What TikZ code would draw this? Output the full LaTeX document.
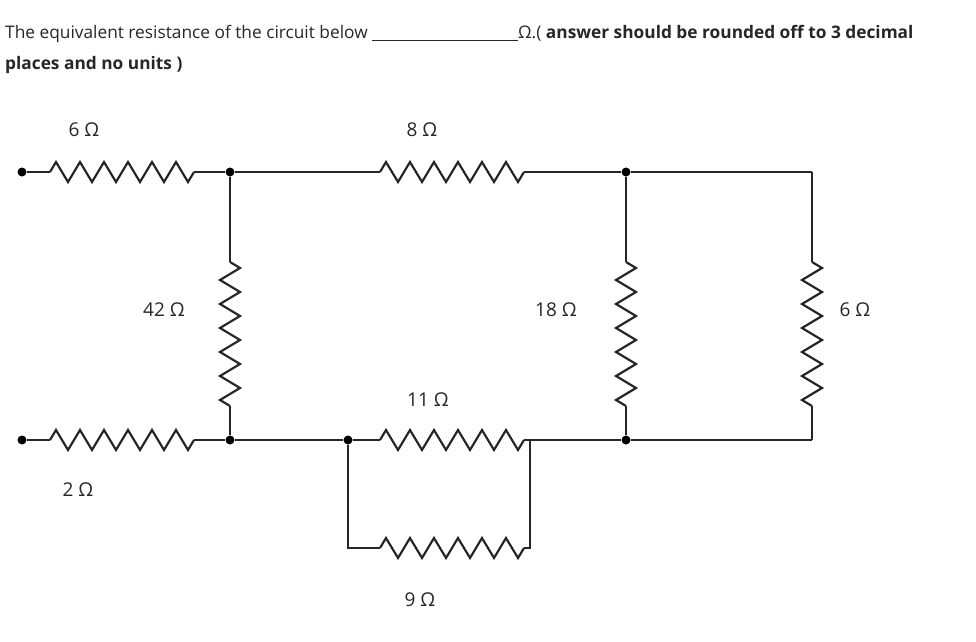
\documentclass[tikz,border=0pt]{standalone}
\usepackage{fontspec}
\setmainfont{Open Sans}
\usetikzlibrary{decorations.pathmorphing}
\begin{document}
\begin{tikzpicture}[x=1pt,y=-1pt,
  w/.style={line width=2.2pt,black!85},
  res/.style={w,decorate,decoration={zigzag,segment length=24pt,amplitude=10pt,pre length=0pt,post length=0pt}},
  dot/.style={circle,fill=black,inner sep=0pt,minimum size=9pt},
  lbl/.style={font=\fontsize{19}{22}\selectfont,text=black!85},
  txt/.style={font=\fontsize{17.3}{20}\selectfont,anchor=west,inner sep=0pt,text=black!85}]
\useasboundingbox (0,0) rectangle (976,641);
\node[txt] (t1) at (5,34) {The equivalent resistance of the circuit below \underline{\hspace{146pt}}Ω.( \textbf{answer should be rounded off to 3 decimal}};
\node[txt] (t2) at (5,65) {\textbf{places and no units )}};
% nodes
\node[dot] (A) at (22,172) {};
\node[dot] (B) at (230,172) {};
\node[dot] (C) at (626,172) {};
\coordinate (D) at (812,172);
\node[dot] (E) at (22,440) {};
\node[dot] (F) at (230,440) {};
\node[dot] (G) at (348,440) {};
\coordinate (H) at (530,440);
\node[dot] (I) at (626,440) {};
\coordinate (J) at (812,440);
\coordinate (K) at (348,548);
\coordinate (L) at (530,548);
% top
\draw[w] (A) -- (50,172);
\draw[res] (50,172) -- (194,172);
\draw[w] (194,172) -- (B) -- (380,172);
\draw[res] (380,172) -- (524,172);
\draw[w] (524,172) -- (C) -- (D);
% verticals
\draw[w] (B) -- (230,262); \draw[res] (230,262) -- (230,406); \draw[w] (230,406) -- (F);
\draw[w] (C) -- (626,262); \draw[res] (626,262) -- (626,406); \draw[w] (626,406) -- (I);
\draw[w] (D) -- (812,262); \draw[res] (812,262) -- (812,406); \draw[w] (812,406) -- (J);
% bottom
\draw[w] (E) -- (50,440); \draw[res] (50,440) -- (194,440); \draw[w] (194,440) -- (F) -- (G) -- (380,440);
\draw[res] (380,440) -- (524,440); \draw[w] (524,440) -- (H) -- (I) -- (J);
\draw[w] (G) -- (K) -- (380,548); \draw[res] (380,548) -- (524,548); \draw[w] (524,548) -- (L) -- (H);
% labels
\node[lbl] (l1) at (84,130) {6 Ω};
\node[lbl] (l2) at (422,130) {8 Ω};
\node[lbl] (l3) at (164,310) {42 Ω};
\node[lbl] (l4) at (556,310) {18 Ω};
\node[lbl] (l5) at (855,310) {6 Ω};
\node[lbl] (l6) at (428,400) {11 Ω};
\node[lbl] (l7) at (78,490) {2 Ω};
\node[lbl] (l8) at (420,600) {9 Ω};
\end{tikzpicture}
\end{document}
